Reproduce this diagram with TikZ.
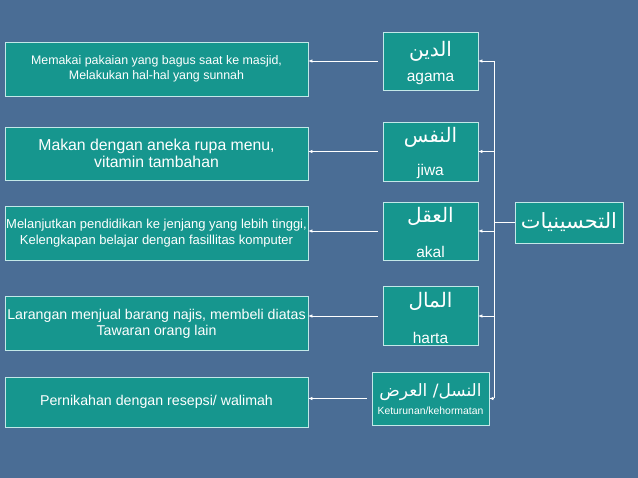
\documentclass[tikz,border=0pt]{standalone}
\usepackage{fontspec}
\setmainfont{Liberation Sans}
\newfontfamily\arabicfont[Script=Arabic]{DejaVu Sans}
\TeXXeTstate=1
\usetikzlibrary{arrows.meta,calc}
\definecolor{slide}{RGB}{74,109,149}
\definecolor{boxfill}{RGB}{22,150,142}
\definecolor{boxline}{RGB}{195,232,232}
\newcommand\arab[2][20]{{\arabicfont\fontsize{#1}{#1}\selectfont\beginR #2\endR}}
\newcommand\topgap[1]{\rule{0pt}{#1}}
\newcommand\botgap[1]{\rule[-#1]{0pt}{#1}}

\begin{document}
\begin{tikzpicture}[x=1pt,y=-1pt,>={Latex[length=4pt,width=3.5pt]},
    box/.style={text=white,fill=boxfill,draw=boxline,line width=0.7pt,align=center,inner sep=0pt},
    leftbox/.style={box,minimum width=303pt,minimum height=54pt},
    midbox/.style={box,minimum width=95pt,font=\fontsize{15.5}{17}\selectfont},
    wire/.style={draw=white,line width=0.6pt},
    link/.style={wire,->}]
  \fill[slide] (0,0) rectangle (638,478);

  \node[leftbox,font=\fontsize{12.4}{15}\selectfont] (pakaian) at (156.5,69)
    {Memakai pakaian yang bagus saat ke masjid,\\Melakukan hal-hal yang sunnah};
  \node[leftbox,minimum height=53pt,font=\fontsize{15.8}{17}\selectfont] (makan) at (156.5,153.5)
    {Makan dengan aneka rupa menu,\\vitamin tambahan};
  \node[leftbox,font=\fontsize{13}{15.5}\selectfont] (belajar) at (156.5,233)
    {Melanjutkan pendidikan ke jenjang yang lebih tinggi,\\Kelengkapan belajar dengan fasillitas komputer};
  \node[leftbox,font=\fontsize{14.2}{16}\selectfont] (jual) at (156.5,323.5)
    {Larangan menjual barang najis, membeli diatas\\Tawaran orang lain};
  \node[leftbox,minimum height=50pt,font=\fontsize{14.2}{16}\selectfont] (nikah) at (156.5,402)
    {Pernikahan dengan resepsi/ walimah};

  \node[midbox] (din) at (430.5,61)
    {\topgap{25pt}\arab{الدين}\\[8pt]agama\botgap{8pt}};
  \node[midbox] (nafs) at (430.5,151.5)
    {\topgap{21pt}\arab{النفس}\\[16pt]jiwa\botgap{5pt}};
  \node[midbox] (aql) at (430.5,231)
    {\topgap{21pt}\arab{العقل}\\[18pt]akal\botgap{2pt}};
  \node[midbox] (mal) at (430.5,316)
    {\topgap{21pt}\arab{المال}\\[19pt]harta\botgap{1.5pt}};
  \node[midbox,minimum width=117pt] (nasl) at (430.5,398.5)
    {\topgap{25pt}\arab[17]{النسل/ العرض}\\[1pt]\fontsize{10.4}{12}\selectfont Keturunan/kehormatan\botgap{10pt}};

  \node[box,minimum width=108pt,minimum height=41pt] (tahsin) at (569,222.5) {\arab[21]{التحسينيات}};

  \coordinate (bus) at (494,0);
  \draw[wire] (tahsin.west) -- (tahsin.west -| bus);
  \draw[wire] (bus |- din.east) -- (bus |- nasl.east);
  \foreach \m in {din,nafs,aql,mal,nasl}
    \draw[link] (bus |- \m.east) -- (\m.east);
  \foreach \m/\l in {din/pakaian,nafs/makan,aql/belajar,mal/jual,nasl/nikah}
    \draw[link] ([xshift=-5pt]\m.west) -- (\l.east |- \m.west);
\end{tikzpicture}
\end{document}
